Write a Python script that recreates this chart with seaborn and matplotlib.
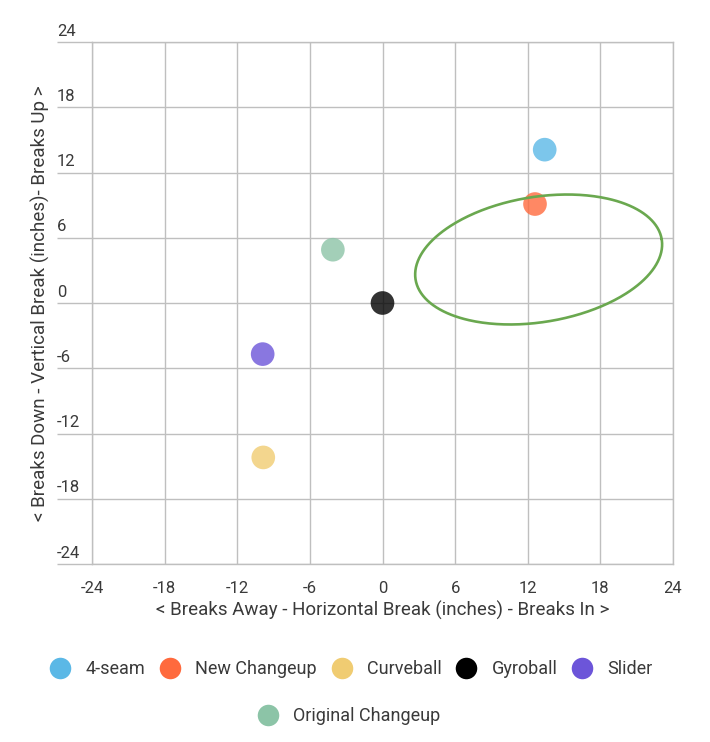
import matplotlib
matplotlib.use("Agg")
import matplotlib.pyplot as plt
import seaborn as sns
import numpy as np
import pandas as pd
from matplotlib.lines import Line2D

pitches = ["4-seam", "New Changeup", "Curveball", "Gyroball", "Slider", "Original Changeup"]
horizontal_break = [13.4, 12.6, -9.85, 0.0, -9.9, -4.1]
vertical_break = [14.1, 9.1, -14.2, 0.0, -4.7, 4.9]
colors = ["#5BB8E6", "#FF6A3D", "#F0CC72", "#000000", "#6C55D9", "#8CC4A7"]
ticks = [-24, -18, -12, -6, 0, 6, 12, 18, 24]

# annotation ellipse (data units centre, pixel semi-axes, angle)
ell_cx, ell_cy = 12.9, 4.0
ell_a_px, ell_b_px, ell_angle = 124.7, 62.6, 9.3

df = pd.DataFrame({"pitch": pitches, "hb": horizontal_break, "vb": vertical_break})

sns.set_theme(style="white")
plt.rcParams["font.family"] = ["Roboto", "DejaVu Sans"]
plt.rcParams["axes.unicode_minus"] = False

W, H = 710, 742
fig = plt.figure(figsize=(W / 100, H / 100), dpi=100)
L, R, T, B = 92, 673, 42, 564
ax = fig.add_axes([L / W, 1 - B / H, (R - L) / W, (B - T) / H])

gridc = "#bfbfbf"
textc = "#3a3a3a"

sns.scatterplot(data=df, x="hb", y="vb", hue="pitch", palette=dict(zip(pitches, colors)),
                s=290, alpha=0.8, edgecolor="none", legend=False, ax=ax, zorder=3)

ax.set_xlim(-24, 24)
ax.set_ylim(-24, 24)
ax.set_xticks(ticks)
ax.set_yticks(ticks)
ax.grid(True, color=gridc, lw=1)
for sp in ax.spines.values():
    sp.set_color(gridc)
    sp.set_linewidth(1)
ax.tick_params(axis="x", bottom=False, length=0, pad=12, labelsize=12, labelcolor=textc)
ax.tick_params(axis="y", left=True, length=25.2, width=1, color=gridc, labelleft=False)
for t in ticks:
    ax.annotate(str(t), xy=(0, t), xycoords=("axes fraction", "data"),
                xytext=(-25.2, 2.5), textcoords="offset points", ha="left", va="bottom",
                fontsize=12, color=textc)

ax.set_xlabel("< Breaks Away - Horizontal Break (inches) - Breaks In >", fontsize=13.5,
              color=textc, labelpad=4)
ax.set_ylabel("< Breaks Down - Vertical Break (inches)- Breaks Up >", fontsize=13.5,
              color=textc, labelpad=5)

# ellipse drawn in pixel-shaped space, converted to data units
ppu_x = (R - L) / 48.0
ppu_y = (B - T) / 48.0
t = np.linspace(0, 2 * np.pi, 400)
th = np.deg2rad(ell_angle)
px = ell_a_px * np.cos(t) * np.cos(th) - ell_b_px * np.sin(t) * np.sin(th)
py = ell_a_px * np.cos(t) * np.sin(th) + ell_b_px * np.sin(t) * np.cos(th)
ax.plot(ell_cx + px / ppu_x, ell_cy + py / ppu_y, color="#6AA84F", lw=1.9, zorder=4)

def handle(c):
    return Line2D([], [], marker="o", linestyle="none", markersize=15.5,
                  markerfacecolor=c, markeredgecolor="none")

fig.legend([handle(c) for c in colors[:5]], pitches[:5], loc="center",
           bbox_to_anchor=(0.494, 1 - 669 / H), ncol=5, frameon=False,
           fontsize=13, handletextpad=0.75, columnspacing=0.72, handlelength=1.3,
           labelcolor=textc)
fig.legend([handle(colors[5])], pitches[5:], loc="center",
           bbox_to_anchor=(0.49, 1 - 716 / H), ncol=1, frameon=False,
           fontsize=13, handletextpad=0.75, handlelength=1.3, labelcolor=textc)

fig.savefig("out.png", dpi=100, facecolor="white")
